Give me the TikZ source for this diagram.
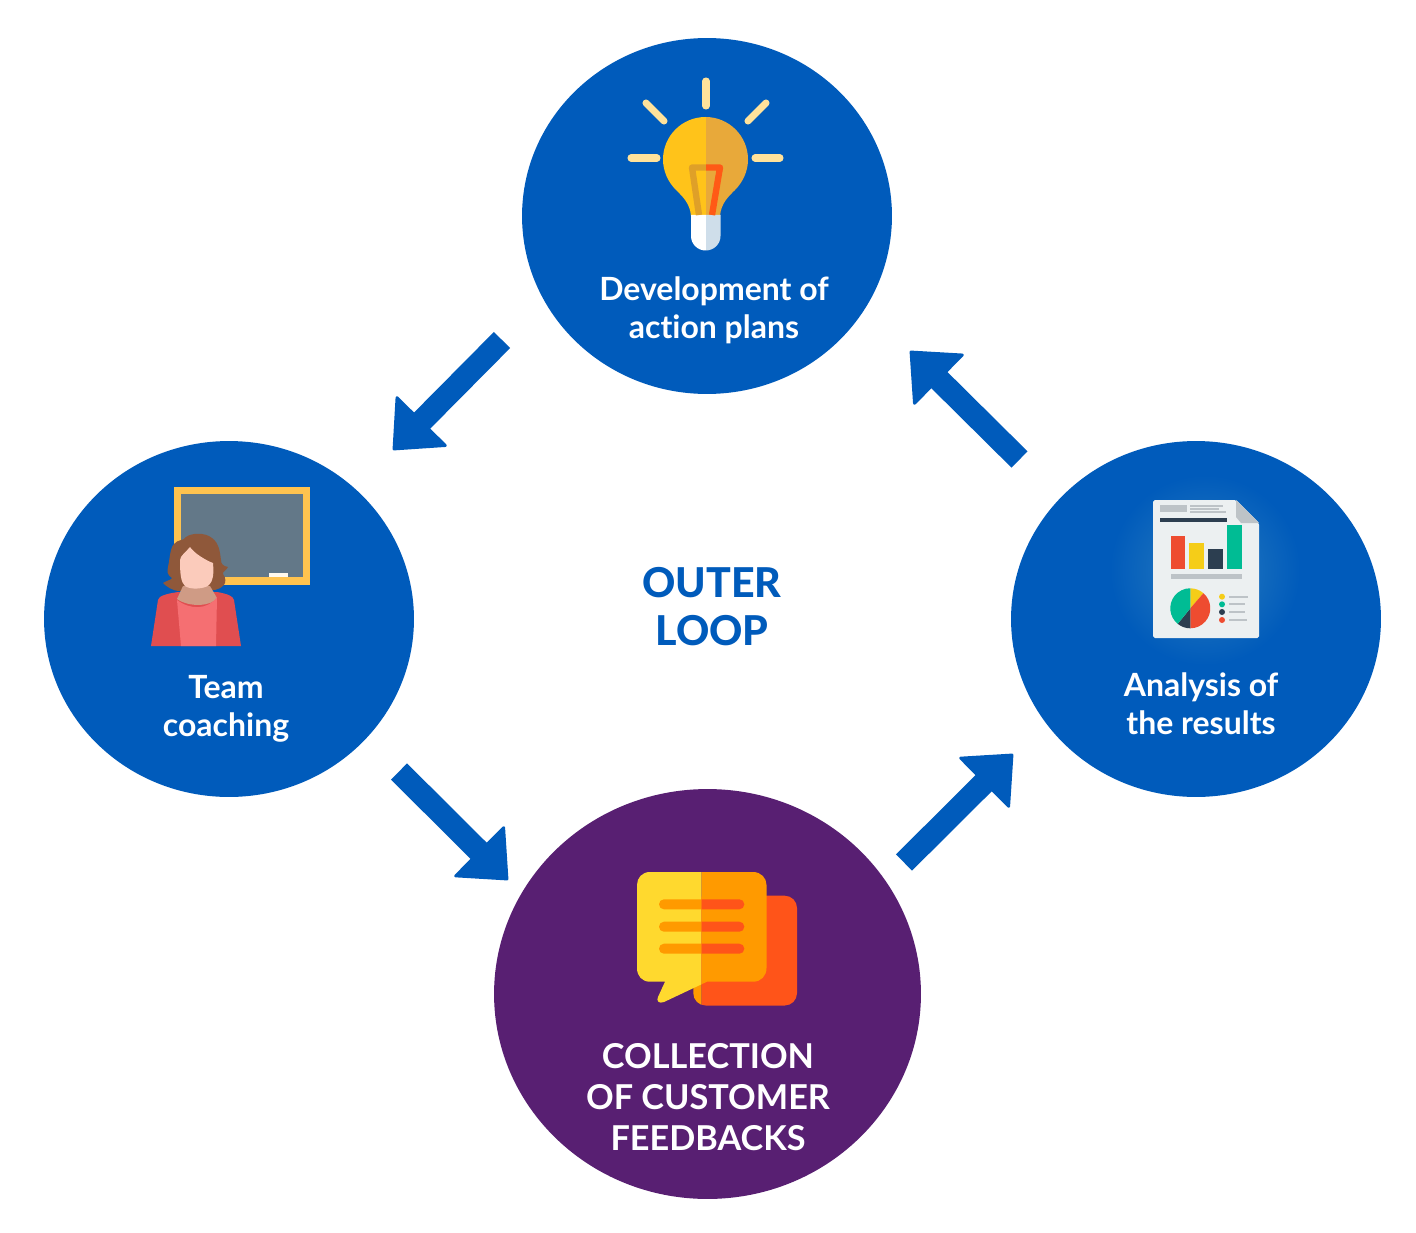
\documentclass[tikz,border=0pt]{standalone}
\usepackage{fontspec}
\setmainfont[Ligatures=NoCommon]{Lato}
\newfontfamily\heavyfont[BoldFont={Lato Heavy}]{Lato}
\usetikzlibrary{shapes.geometric,arrows.meta}
\definecolor{blueC}{HTML}{005BBB}
\definecolor{glowC}{HTML}{2A7DBF}
\definecolor{purpleC}{HTML}{581F72}
\definecolor{rayC}{HTML}{FFE29B}
\definecolor{bulbL}{HTML}{FFC31A}
\definecolor{bulbR}{HTML}{E8A93A}
\definecolor{filL}{HTML}{DFA028}
\definecolor{filR}{HTML}{FF5A16}
\definecolor{baseR}{HTML}{CFDEEA}
\definecolor{frameC}{HTML}{FFC34F}
\definecolor{boardC}{HTML}{637888}
\definecolor{hairC}{HTML}{8F583A}
\definecolor{faceC}{HTML}{FBCBBB}
\definecolor{neckC}{HTML}{CF9B85}
\definecolor{jacketC}{HTML}{E04E50}
\definecolor{shirtC}{HTML}{F56F72}
\definecolor{pageC}{HTML}{ECF0F1}
\definecolor{foldC}{HTML}{BDC3C7}
\definecolor{repRed}{HTML}{EE4C30}
\definecolor{repYel}{HTML}{F5CD18}
\definecolor{repDark}{HTML}{2C3E50}
\definecolor{repGreen}{HTML}{00BC94}
\definecolor{chatY}{HTML}{FFD92E}
\definecolor{chatO}{HTML}{FF9A00}
\definecolor{chatR}{HTML}{FF5419}
\tikzset{
  x=0.02cm,y=-0.02cm,
  disc/.style={ellipse,draw=none,inner sep=0pt},
  bluedisc/.style={disc,fill=blueC,minimum width=7.4cm,minimum height=7.12cm},
  flowarrow/.style={draw=blueC,line width=13pt,
    -{Triangle[length=24pt,width=42pt,round,line width=1.6pt,fill=blueC]}},
  ray/.style={draw=rayC,line width=4pt,line cap=round},
  caption/.style={text=white,align=center,font=\fontsize{18.2}{21.5}\selectfont\bfseries},
  bigcaption/.style={text=white,align=center,font=\fontsize{19.5}{23.3}\selectfont\bfseries},
  title/.style={text=blueC,align=center,font=\heavyfont\fontsize{23.4}{27.2}\selectfont\bfseries},
}
\newcommand{\bulbpath}{(691,216) .. controls (690,203) and (682,196) .. (676,190) .. controls (668,182) and (663,171) .. (663,159.5) .. controls (663,136) and (682,117) .. (705.5,117) .. controls (729,117) and (748,136) .. (748,159.5) .. controls (748,171) and (743,182) .. (735,190) .. controls (729,196) and (721,203) .. (720,216) -- cycle}
\newcommand{\basepath}{(691,215) -- (720.5,215) -- (720.5,236) .. controls (720.5,244) and (714,250.5) .. (705.7,250.5) .. controls (697.5,250.5) and (691,244) .. (691,236) -- cycle}
\newcommand{\filpath}{(699,215) -- (692,167.5) -- (720,167.5) -- (712,215)}
\newcommand{\frontbubble}{(650,872) -- (753,872) .. controls (761,872) and (766.5,878) .. (766.5,885) -- (766.5,968) .. controls (766.5,976) and (761,981.7) .. (753,981.7) -- (707,981.7) -- (664,1002) .. controls (659,1004) and (656,1001) .. (658,997) -- (665,981.7) -- (650,981.7) .. controls (642,981.7) and (637,976) .. (637,968) -- (637,885) .. controls (637,878) and (642,872) .. (650,872) -- cycle}
\begin{document}
\begin{tikzpicture}
\useasboundingbox (0,0) rectangle (1416,1233);
\fill[white] (0,0) rectangle (1416,1233);

% discs
\node[bluedisc] (top) at (707,216) {};
\node[bluedisc] (left) at (229,619) {};
\node[bluedisc] (right) at (1196,619) {};
\node[disc,fill=purpleC,minimum width=8.54cm,minimum height=8.2cm] (bottom) at (707.5,994) {};

% arrows
\coordinate (a1s) at (502,340); \coordinate (a1e) at (393,450);
\coordinate (a2s) at (399,771.5); \coordinate (a2e) at (508,880);
\coordinate (a3s) at (904,862.5); \coordinate (a3e) at (1013,754);
\coordinate (a4s) at (1019.5,459.5); \coordinate (a4e) at (910,351);
\draw[flowarrow] (a1s) -- (a1e);
\draw[flowarrow] (a2s) -- (a2e);
\draw[flowarrow] (a3s) -- (a3e);
\draw[flowarrow] (a4s) -- (a4e);

% bulb icon
\draw[ray] (706,81) -- (706,106);
\draw[ray] (646,103) -- (664,121);
\draw[ray] (766,103) -- (748,121);
\draw[ray] (631,158) -- (657,158);
\draw[ray] (755,158) -- (780,158);
\begin{scope}
  \clip (600,60) rectangle (706,260);
  \fill[bulbL] \bulbpath;
  \fill[white] \basepath;
  \draw[filL,line width=3.6pt,line join=round] \filpath;
\end{scope}
\begin{scope}
  \clip (706,60) rectangle (800,260);
  \fill[bulbR] \bulbpath;
  \fill[baseR] \basepath;
  \draw[filR,line width=3.6pt,line join=round] \filpath;
\end{scope}

% teacher icon
\fill[frameC] (174,487) rectangle (310,585);
\fill[boardC] (181,494) rectangle (303,577);
\fill[white!90!frameC] (269,573) rectangle (288,577);
\fill[jacketC] (151,646) -- (158,600) .. controls (159,596) and (165,594) .. (178,592) -- (217,592) .. controls (228,594) and (233,596) .. (234,600) -- (241,646) -- cycle;
\fill[hairC] (163,583) .. controls (168,580) and (171,580) .. (172,578) .. controls (167,575) and (167,571) .. (168,567) .. controls (170,558) and (170,548) .. (174,544) .. controls (178,539) and (184,541) .. (186,537) .. controls (191,533) and (205,532) .. (212,538) .. controls (219,543) and (220,552) .. (221,560) .. controls (221,564) and (223,566) .. (228,567) .. controls (226,571) and (222,572) .. (223,574) .. controls (226,578) and (226,582) .. (224,585) .. controls (220,590) and (212,591) .. (205,590) -- (180,591) .. controls (172,591) and (166,586) .. (163,583) -- cycle;
\fill[neckC] (183,586) -- (210,586) -- (217,598) .. controls (212,606) and (190,608) .. (177,599) -- cycle;
\fill[shirtC] (177,600) .. controls (190,610) and (208,610) .. (217,597) -- (216,646) -- (181,646) -- cycle;
\fill[faceC] (180,560) .. controls (180,556) and (186,552) .. (190,547) .. controls (194,553) and (205,560) .. (213,563) .. controls (214,575) and (213,581) .. (209,585) .. controls (205,589) and (190,590) .. (185,586) .. controls (181,582) and (180,575) .. (180,560) -- cycle;

% report icon
\shade[inner color=glowC,outer color=blueC] (1205,570) circle (95);
\fill[pageC,rounded corners=1pt] (1153,500) -- (1236,500) -- (1259,523) -- (1259,638) -- (1153,638) -- cycle;
\fill[foldC] (1236,500) -- (1259,523) -- (1241,523) -- (1236,517) -- cycle;
\fill[foldC] (1160,505) rectangle (1187,512);
\fill[foldC] (1190,505) rectangle (1223,506.5);
\fill[foldC] (1190,508) rectangle (1219,509.5);
\fill[foldC] (1190,511) rectangle (1226,512.5);
\fill[repDark] (1160,517.5) rectangle (1227,522);
\fill[repRed] (1170.7,535.7) rectangle (1185,569.3);
\fill[repYel] (1189.3,542.7) rectangle (1204,569.3);
\fill[repDark] (1208,549.3) rectangle (1222.7,569.3);
\fill[repGreen] (1226.7,525) rectangle (1241.7,569.3);
\fill[foldC] (1170.7,574.3) rectangle (1241.7,579);
\coordinate (pie) at (1190.3,608.3);
\fill[repYel] (pie) -- +(0,-20) arc[start angle=-90,end angle=-49,radius=20] -- cycle;
\fill[repRed] (pie) -- +(13.1,-15.1) arc[start angle=-49,end angle=90,radius=20] -- cycle;
\fill[repDark] (pie) -- +(0,20) arc[start angle=90,end angle=129,radius=20] -- cycle;
\fill[repGreen] (pie) -- +(-12.6,15.5) arc[start angle=129,end angle=270,radius=20] -- cycle;
\fill[repYel] (1222,596.7) circle (3);
\fill[repGreen] (1222,604.3) circle (3);
\fill[repDark] (1222,612) circle (3);
\fill[repRed] (1222,620) circle (3);
\fill[foldC] (1228.7,595.5) rectangle (1247.5,597.5);
\fill[foldC] (1228.7,603.3) rectangle (1245,605.3);
\fill[foldC] (1228.7,611.1) rectangle (1245,613.1);
\fill[foldC] (1228.7,618.6) rectangle (1247,620.6);

% chat icon
\begin{scope}
  \clip (600,850) rectangle (701.7,1020);
  \fill[chatO,rounded corners=7pt] (693.3,895.7) rectangle (797,1005.5);
  \fill[chatY] \frontbubble;
  \fill[chatO,rounded corners=2.8pt] (659,899.3) rectangle (744.3,909.3);
  \fill[chatO,rounded corners=2.8pt] (659,921.7) rectangle (744.3,931.7);
  \fill[chatO,rounded corners=2.8pt] (659,943.7) rectangle (744.3,953.7);
\end{scope}
\begin{scope}
  \clip (701.7,850) rectangle (810,1020);
  \fill[chatR,rounded corners=7pt] (693.3,895.7) rectangle (797,1005.5);
  \fill[chatO] \frontbubble;
  \fill[chatR,rounded corners=2.8pt] (659,899.3) rectangle (744.3,909.3);
  \fill[chatR,rounded corners=2.8pt] (659,921.7) rectangle (744.3,931.7);
  \fill[chatR,rounded corners=2.8pt] (659,943.7) rectangle (744.3,953.7);
\end{scope}

% labels
\node[caption] (t1) at (714,310) {Development of\\action plans};
\node[caption] (t2) at (226,708.5) {Team\\coaching};
\node[caption] (t3) at (1201,703.5) {Analysis of\\the results};
\node[bigcaption] (t4) at (708,1097) {COLLECTION\\OF CUSTOMER\\FEEDBACKS};
\node[title] (t5) at (712,606.5) {OUTER\\LOOP};
\end{tikzpicture}
\end{document}
